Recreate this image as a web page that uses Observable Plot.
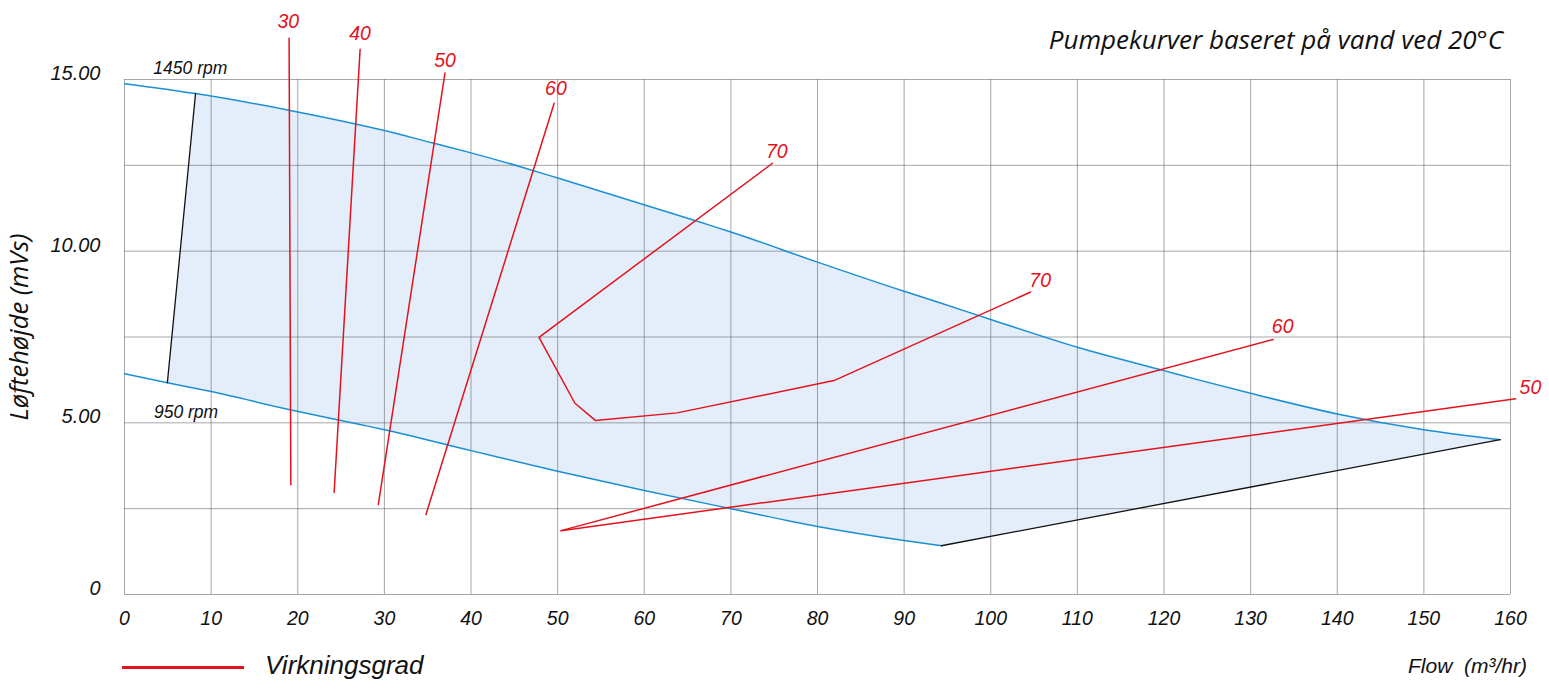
<!DOCTYPE html>
<html>
<head>
<meta charset="utf-8">
<script src="https://cdn.jsdelivr.net/npm/d3@7"></script>
<script src="https://cdn.jsdelivr.net/npm/@observablehq/plot@0.6"></script>
<style>
  html, body { margin: 0; padding: 0; background: #fff; }
  #wrap { position: relative; width: 1549px; height: 698px; overflow: hidden; }
  #title { position: absolute; right: 46px; top: 26px; font: italic 26px "Open Sans", sans-serif; color: #111; white-space: nowrap; line-height: 1; }
  #legendLine { position: absolute; left: 122px; top: 666px; width: 122px; height: 2.5px; background: #e3121c; }
  #legendText { position: absolute; left: 265px; top: 652px; font: italic 26px "Liberation Sans", Arial, sans-serif; color: #111; line-height: 1; white-space: nowrap; }
  #flowLabel { position: absolute; right: 22px; top: 655px; font: italic 21px "Liberation Sans", Arial, sans-serif; color: #111; line-height: 1; white-space: pre; }
</style>
</head>
<body>
<div id="wrap">
  <div id="chart"></div>
  <div id="title">Pumpekurver baseret på vand ved 20°C</div>
  <div id="legendLine"></div>
  <div id="legendText">Virkningsgrad</div>
  <div id="flowLabel">Flow  (m³/hr)</div>
</div>
<script>
// ---- Data ----
const xTicks = [0, 10, 20, 30, 40, 50, 60, 70, 80, 90, 100, 110, 120, 130, 140, 150, 160];
const yGrid = [0, 2.5, 5, 7.5, 10, 12.5, 15];
const yTickValues = [0, 5, 10, 15];

// 1450 rpm pump curve (upper)
const upperX = [0, 8.2, 19.1, 29.9, 35.6, 39.9, 45.7, 50.3, 66.5, 70, 80, 90, 94.2, 100, 110, 120, 124.3, 130, 140, 150, 158.8];
const upperY = [14.88, 14.59, 14.10, 13.52, 13.15, 12.87, 12.46, 12.11, 10.84, 10.56, 9.68, 8.83, 8.49, 8.01, 7.20, 6.52, 6.23, 5.86, 5.26, 4.80, 4.51];

// 950 rpm pump curve (lower)
const lowerX = [0, 4.95, 10, 19.1, 27.2, 30, 40, 50, 60, 70, 80, 90, 94.3];
const lowerY = [6.43, 6.17, 5.91, 5.38, 4.95, 4.80, 4.19, 3.59, 3.03, 2.50, 1.98, 1.57, 1.42];

// black boundary lines
const leftEdge = [[4.95, 6.17], [8.2, 14.59]];
const rightEdge = [[94.3, 1.42], [158.8, 4.51]];

// efficiency (Virkningsgrad) lines
const eff30a = [[19.0, 16.2], [19.2, 3.2]];
const eff40a = [[27.2, 15.88], [24.2, 2.97]];
const eff50a = [[37.0, 15.19], [29.3, 2.62]];
const eff60a = [[49.6, 14.31], [34.8, 2.33]];
const eff70 = [[74.8, 12.56], [47.85, 7.49], [52.0, 5.57], [54.35, 5.07], [63.8, 5.29], [81.9, 6.23], [104.6, 8.81]];
const eff60b = [[50.4, 1.86], [132.6, 7.43]];
const eff50b = [[50.4, 1.86], [160.6, 5.70]];

// efficiency labels
const effLabels = ["30", "40", "50", "60", "70", "70", "60", "50"];
const effLabelX = [18.9, 27.2, 37.0, 49.8, 75.3, 105.7, 133.7, 162.3];
const effLabelY = [16.69, 16.34, 15.55, 14.74, 12.9, 9.15, 7.81, 6.03];

// rpm labels
const rpmLabels = ["1450 rpm", "950 rpm"];
const rpmLabelX = [7.6, 7.1];
const rpmLabelY = [15.32, 5.30];

// ---- Build tables ----
const pts = (xs, ys) => xs.map((x, i) => ({x, y: ys[i]}));
const upper = pts(upperX, upperY);
const lower = pts(lowerX, lowerY);
const pairs = a => a.map(([x, y]) => ({x, y}));

// polygon of shaded operating region
const poly = [
  ...pairs(leftEdge),
  ...upper.filter(d => d.x > 8.2),
  ...pairs(rightEdge).reverse().slice(1),
  ...lower.filter(d => d.x < 94.3 && d.x >= 4.95).reverse()
];

const effSets = [eff30a, eff40a, eff50a, eff60a, eff70, eff60b, eff50b];
const effData = effSets.flatMap((s, k) => s.map(([x, y]) => ({x, y, k})));
const labels = effLabels.map((t, i) => ({t, x: effLabelX[i], y: effLabelY[i]}));
const rpm = rpmLabels.map((t, i) => ({t, x: rpmLabelX[i], y: rpmLabelY[i]}));

const RED = "#e3121c";
const BLUE = "#1a8fd4";
const FONT = "'Liberation Sans', Arial, sans-serif";

const chart = Plot.plot({
  width: 1549,
  height: 640,
  marginLeft: 124,
  marginRight: 39,
  marginTop: 79,
  marginBottom: 46,
  x: {domain: [0, 160]},
  y: {domain: [0, 15]},
  style: {fontFamily: FONT, fontStyle: "italic", color: "#111", background: "#fff", overflow: "visible"},
  marks: [
    Plot.line(poly, {x: "x", y: "y", fill: "#e3eefa", stroke: "none", curve: "linear-closed"}),
    Plot.gridX(xTicks, {stroke: "#5f5f5f", strokeOpacity: 0.55, strokeWidth: 1}),
    Plot.gridY(yGrid, {stroke: "#5f5f5f", strokeOpacity: 0.55, strokeWidth: 1}),
    Plot.axisX(xTicks, {tickSize: 0, tickPadding: 17, fontSize: 19.5, fontStyle: "italic", fontFamily: FONT, label: null}),
    Plot.axisY(yTickValues, {tickSize: 0, tickPadding: 24, dy: -6, fontSize: 20, fontStyle: "italic", fontFamily: FONT, label: null,
      tickFormat: d => d === 0 ? "0" : d.toFixed(2)}),
    Plot.line(upper, {x: "x", y: "y", stroke: BLUE, strokeWidth: 1.5, curve: "monotone-x"}),
    Plot.line(lower, {x: "x", y: "y", stroke: BLUE, strokeWidth: 1.5, curve: "monotone-x"}),
    Plot.line(pairs(leftEdge), {x: "x", y: "y", stroke: "#111", strokeWidth: 1.3}),
    Plot.line(pairs(rightEdge), {x: "x", y: "y", stroke: "#111", strokeWidth: 1.3}),
    Plot.line(effData, {x: "x", y: "y", z: "k", stroke: RED, strokeWidth: 1.5}),
    Plot.text(labels, {x: "x", y: "y", text: "t", fill: RED, fontSize: 19.5, fontStyle: "italic", fontFamily: FONT}),
    Plot.text(rpm, {x: "x", y: "y", text: "t", fill: "#111", fontSize: 17.5, fontStyle: "italic", fontFamily: FONT}),
    Plot.text(["Løftehøjde (mVs)"], {frameAnchor: "left", textAnchor: "middle", dx: -105, dy: -10, rotate: -90, fontSize: 25.5, fontStyle: "italic", fontFamily: "'Open Sans', sans-serif", fill: "#111"})
  ]
});
document.getElementById("chart").appendChild(chart);
</script>
</body>
</html>
